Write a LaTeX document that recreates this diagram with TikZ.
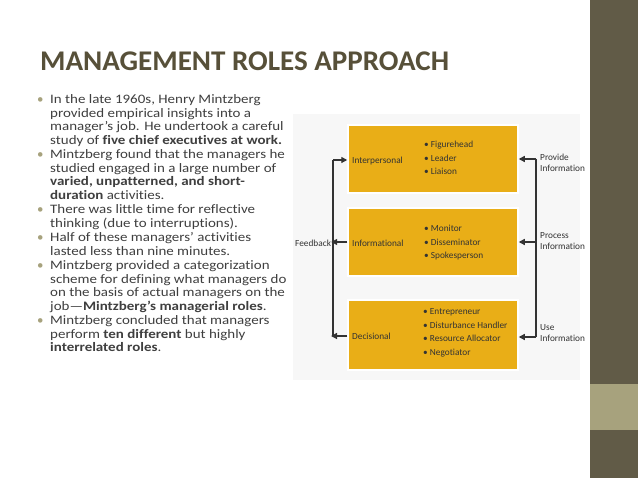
\documentclass[tikz,border=0pt]{standalone}
\usepackage{fontspec}
\setmainfont{Carlito}[Ligatures=NoCommon]
\newfontfamily\bodyf{Carlito}[Ligatures=NoCommon,FakeStretch=1.16]
\usetikzlibrary{arrows.meta}
\definecolor{olive}{HTML}{615B47}
\definecolor{lolive}{HTML}{A7A27D}
\definecolor{gold}{HTML}{E9AE17}
\definecolor{ttl}{HTML}{575039}
\definecolor{body}{HTML}{3F3F3F}
\tikzset{
 ln/.style={anchor=base west,inner sep=0pt,font=\bodyf\fontsize{12.9}{13}\selectfont,text=body},
 bul/.style={anchor=base west,inner sep=0pt,font=\fontsize{12.9}{13}\selectfont,text=lolive},
 rolebox/.style={draw=white,line width=1.5pt,fill=gold,minimum width=170pt,minimum height=68pt,inner sep=0pt},
 sm/.style={font=\fontsize{9.3}{13.5}\selectfont,text=black!80,inner sep=0pt,align=left},
 arr/.style={-{Triangle[length=6pt,width=6pt]},line width=1.3pt,draw=black!80},
 lin/.style={line width=1.3pt,draw=black!80}
}
\begin{document}
\begin{tikzpicture}[x=1pt,y=-1pt]
\useasboundingbox (0,0) rectangle (638,478);
\fill[white] (0,0) rectangle (590,478);
\fill[olive] (590,0) rectangle (638,478);
\fill[lolive] (590,384) rectangle (638,430);
\node[anchor=base west,inner sep=0pt,text=ttl] (title) at (40,71) {\scalebox{1.02}[1]{\fontsize{28.5}{30}\selectfont\bfseries MANAGEMENT ROLES APPROACH}};
% bullets
\foreach \y in {104,159,214,242,270,325} \node[bul] at (37,\y) {•};
\node[ln] (l1) at (50,104) {In the late 1960s, Henry Mintzberg};
\node[ln] (l2) at (50,117.5) {provided empirical insights into a};
\node[ln] (l3) at (50,131) {manager’s job. He undertook a careful};
\node[ln] (l4) at (50,144.5) {study of \textbf{five chief executives at work.}};
\node[ln] (l5) at (50,159) {Mintzberg found that the managers he};
\node[ln] (l6) at (50,172.5) {studied engaged in a large number of};
\node[ln] (l7) at (50,186) {\textbf{varied, unpatterned, and short-}};
\node[ln] (l8) at (50,199.5) {\textbf{duration} activities.};
\node[ln] (l9) at (50,214) {There was little time for reflective};
\node[ln] (l10) at (50,227.5) {thinking (due to interruptions).};
\node[ln] (l11) at (50,242) {Half of these managers’ activities};
\node[ln] (l12) at (50,255.5) {lasted less than nine minutes.};
\node[ln] (l13) at (50,270) {Mintzberg provided a categorization};
\node[ln] (l14) at (50,283.5) {scheme for defining what managers do};
\node[ln] (l15) at (50,297) {on the basis of actual managers on the};
\node[ln] (l16) at (50,310.5) {job—\textbf{Mintzberg’s managerial roles}.};
\node[ln] (l17) at (50,325) {Mintzberg concluded that managers};
\node[ln] (l18) at (50,338.5) {perform \textbf{ten different} but highly};
\node[ln] (l19) at (50,352) {\textbf{interrelated roles}.};
% diagram
\fill[black!3] (293,114) rectangle (580,380);
\node[rolebox] (b1) at (433,159) {};
\node[rolebox] (b2) at (433,242) {};
\node[rolebox,minimum height=70pt] (b3) at (433,335) {};
\node[sm,anchor=west] (t1) at (352,161) {Interpersonal};
\node[sm,anchor=west] (t2) at (352,243) {Informational};
\node[sm,anchor=west] (t3) at (352,336) {Decisional};
\node[sm,anchor=west] (r1) at (424,158) {• Figurehead\\• Leader\\• Liaison};
\node[sm,anchor=west] (r2) at (424,243) {• Monitor\\• Disseminator\\• Spokesperson};
\node[sm,anchor=west] (r3) at (423,333) {• Entrepreneur\\• Disturbance Handler\\• Resource Allocator\\• Negotiator};
\node[sm,anchor=west] (fb) at (295,243) {Feedback};
\node[sm,anchor=west,font=\fontsize{9.3}{11.5}\selectfont] (p1) at (540,163) {Provide\\Information};
\node[sm,anchor=west,font=\fontsize{9.3}{11.5}\selectfont] (p2) at (540,241) {Process\\Information};
\node[sm,anchor=west,font=\fontsize{9.3}{11.5}\selectfont] (p3) at (540,333) {Use\\Information};
\coordinate (lt) at (333,160);
\coordinate (lb) at (333,336);
\coordinate (rt) at (536,159);
\coordinate (rb) at (536,337);
\draw[lin] (lt) -- (lb);
\draw[arr] (lt) -- (b1.west |- lt);
\draw[arr] (b2.west) -- (b2.west -| fb.east) ;
\draw[arr] (b3.west |- lb) -- ([xshift=-2pt]lb);
\draw[lin] (rt) -- (rb);
\draw[arr] (rt) -- (b1.east |- rt);
\draw[arr] (536,242) -- (b2.east);
\draw[arr] (rb) -- (b3.east |- rb);
\end{tikzpicture}
\end{document}
